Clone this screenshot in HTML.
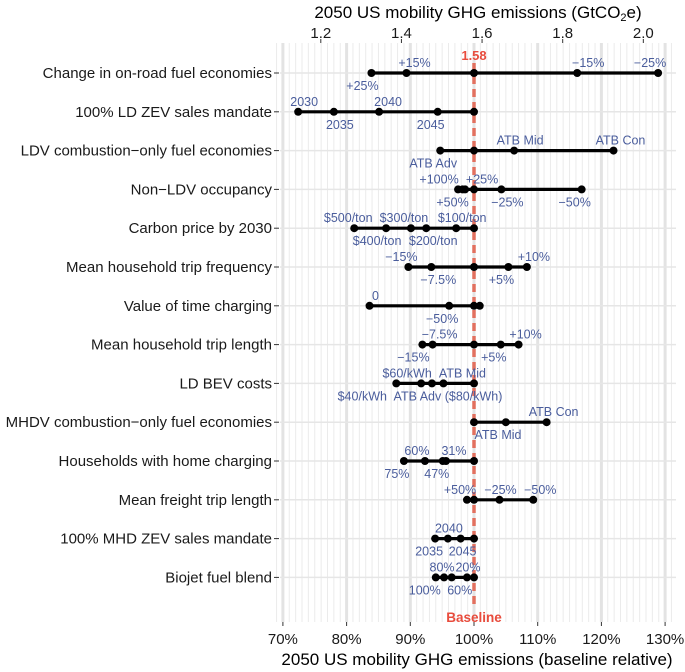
<!DOCTYPE html>
<html><head><meta charset="utf-8"><style>
body{margin:0;background:#fff;}
svg{display:block;font-family:"Liberation Sans",Arial,sans-serif;}
</style></head><body>
<svg id="chart" width="685" height="672" viewBox="0 0 685 672"></svg>
<script>
const categories=["Change in on-road fuel economies","100% LD ZEV sales mandate","LDV combustion\u2212only fuel economies","Non\u2212LDV occupancy","Carbon price by 2030","Mean household trip frequency","Value of time charging","Mean household trip length","LD BEV costs","MHDV combustion\u2212only fuel economies","Households with home charging","Mean freight trip length","100% MHD ZEV sales mandate","Biojet fuel blend"];
const values=[
[83.9,89.4,100,116.2,128.9],
[72.4,78.0,85.1,94.3,100],
[94.7,100,106.3,121.9],
[97.5,98.2,98.6,100,104.3,116.9],
[81.2,86.2,90.1,92.5,97.2,100],
[89.7,93.3,100,105.4,108.3],
[83.6,96.1,100,100.9],
[91.9,93.5,100,104.2,107.0],
[87.8,91.7,93.4,95.2,100],
[100,105.0,111.4],
[89.0,92.3,95.1,95.6,100],
[98.9,100,104.0,109.3],
[93.9,95.9,97.9,100],
[94.0,95.3,96.5,98.9,100]];
const labels=[
["+25%","+15%","","\u221215%","\u221225%"],
["2030","2035","2040","2045",""],
["ATB Adv","","ATB Mid","ATB Con"],
["+100%","+50%","+25%","","\u221225%","\u221250%"],
["$500/ton","$400/ton","$300/ton","$200/ton","$100/ton",""],
["\u221215%","\u22127.5%","","+5%","+10%"],
["0","\u221250%","",""],
["\u221215%","\u22127.5%","","+5%","+10%"],
["$40/kWh","$60/kWh","ATB Adv ($80/kWh)","ATB Mid",""],
["ATB Mid","","ATB Con"],
["75%","60%","47%","31%",""],
["+50%","","\u221225%","\u221250%"],
["2035","2040","2045",""],
["100%","80%","60%","20%",""]];
const labelPos=[
["b","a","","a","a"],["a","b","a","b",""],["b","","a","a"],["a","b","a","","b","b"],
["a","b","a","b","a",""],["a","b","","b","a"],["a","b","",""],["b","a","","b","a"],
["b","a","b","a",""],["b","","a"],["b","a","b","a",""],["a","","a","a"],["b","a","b",""],["b","a","b","a",""]];
const labelDx=[
[-9,8,0,11,-8],[6,6,9,-7,0],[-7,0,6,7],[-19,-10,17,0,6,-7],[-6,-9,-7,7,6,0],[-7,7,0,-7,7],[6,-7,0,0],[-9,7,0,-7,7],[-34,-14,16,19,0],[24,0,7],[-7,-8,-6,8,0],[-7,0,1,7],[-6,1,2,0],[-11,-2,8,1,0]];
const bottomTicks=[70,80,90,100,110,120,130];
const topTicks=[1.2,1.4,1.6,1.8,2.0];
const baselineValue=1.58;

const NS="http://www.w3.org/2000/svg";
const svg=document.getElementById("chart");
const L=280,R=676,T=43,B=622;
const X=p=>474+(p-100)*6.37;
const Xg=g=>X(g/baselineValue*100);
const Y=i=>73+i*38.8;
function mk(tag,attrs,parent){const e=document.createElementNS(NS,tag);for(const k in attrs)e.setAttribute(k,attrs[k]);(parent||svg).appendChild(e);return e;}
function txt(s,attrs){const e=mk("text",attrs);e.textContent=s;return e;}

const grid=mk("g",{});


for(let p=69;p<=131;p++){if(p%10===0)continue;mk("line",{x1:X(p),x2:X(p),y1:T,y2:B,stroke:"#ebebeb","stroke-width":1},grid);}
for(const p of bottomTicks){mk("line",{x1:X(p),x2:X(p),y1:T,y2:B,stroke:"#e3e3e3","stroke-width":3},grid);}
for(let i=0;i<categories.length;i++){mk("line",{x1:L,x2:R,y1:Y(i),y2:Y(i),stroke:"#e6e6e6","stroke-width":1.5},grid);}

const base=mk("line",{x1:X(100),x2:X(100),y1:63,y2:606,stroke:"#e2705f","stroke-width":3.5,"stroke-dasharray":"8,5"});


const bl=txt(baselineValue.toFixed(2),{x:X(100),y:60,"text-anchor":"middle","font-size":13,"font-weight":"bold",fill:"#e84c3d"});


const bt=txt("Baseline",{x:X(100),y:622,"text-anchor":"middle","font-size":13.5,"font-weight":"bold",fill:"#e84c3d"});



for(let i=0;i<categories.length;i++){
  const y=Y(i),v=values[i];
  const g=mk("g",{});
  
  
  const yl=txt(categories[i],{x:272,y:y+5,"text-anchor":"end","font-size":15,fill:"#1a1a1a"});
  
  
  mk("line",{x1:274,x2:279,y1:y,y2:y,stroke:"#333","stroke-width":1});
  const ln=mk("line",{x1:X(Math.min(...v)),x2:X(Math.max(...v)),y1:y,y2:y,stroke:"#000","stroke-width":3.2},g);
  
  
  for(let j=0;j<v.length;j++){
    const c=mk("circle",{cx:X(v[j]),cy:y,r:4,fill:"#000"},g);
    
    
    if(labels[i][j]){
      const above=labelPos[i][j]==="a";
      const t=txt(labels[i][j],{x:X(v[j])+labelDx[i][j],y:above?y-6:y+17,"text-anchor":"middle","font-size":12.5,fill:"#4a5d9c"});
      
      
    }
  }
}
for(const p of bottomTicks){
  mk("line",{x1:X(p),x2:X(p),y1:B,y2:B+4,stroke:"#333"});
  const t=txt(p+"%",{x:X(p),y:644,"text-anchor":"middle","font-size":15,fill:"#1a1a1a"});
  
  
}
for(const g of topTicks){
  mk("line",{x1:Xg(g),x2:Xg(g),y1:T-4,y2:T,stroke:"#333"});
  const t=txt(g.toFixed(1),{x:Xg(g),y:38,"text-anchor":"middle","font-size":15,fill:"#1a1a1a"});
  
  
}
const xt=txt("2050 US mobility GHG emissions (baseline relative)",{x:477,y:665,"text-anchor":"middle","font-size":17,fill:"#000"});


const tt=mk("text",{x:478,y:18,"text-anchor":"middle","font-size":17,fill:"#000"});
tt.innerHTML='2050 US mobility GHG emissions (GtCO<tspan font-size="11" dy="3">2</tspan><tspan dy="-3">e)</tspan>';


</script>
</body></html>
